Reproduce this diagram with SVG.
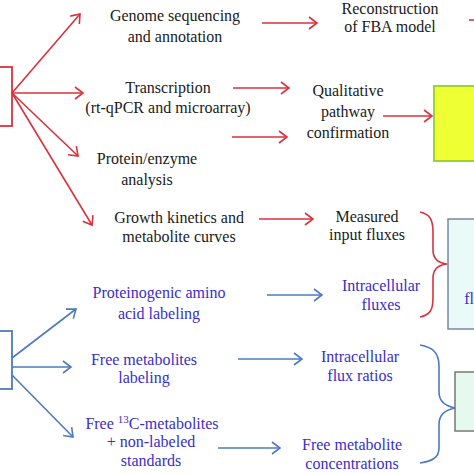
<svg xmlns="http://www.w3.org/2000/svg" width="474" height="474" viewBox="0 0 474 474">
<defs>
<style>
.t{font-family:"Liberation Serif","Times New Roman",serif;font-size:16px;text-anchor:middle;fill:#1a1a1a}
.b{fill:#3a2ec8}
.r{stroke:#d8323e;stroke-width:1.6;fill:none}
.u{stroke:#4d7ac0;stroke-width:1.6;fill:none}
.ra{marker-end:url(#mr)}
.ua{marker-end:url(#mb)}
</style>
<marker id="mr" markerUnits="userSpaceOnUse" markerWidth="12" markerHeight="14" refX="8" refY="6" orient="auto" overflow="visible">
<path d="M0,0 L8,6 L0,12" fill="none" stroke="#d8323e" stroke-width="1.6"/>
</marker>
<marker id="mb" markerUnits="userSpaceOnUse" markerWidth="12" markerHeight="14" refX="8" refY="6" orient="auto" overflow="visible">
<path d="M0,0 L8,6 L0,12" fill="none" stroke="#4d7ac0" stroke-width="1.6"/>
</marker>
</defs>
<rect width="474" height="474" fill="#ffffff"/>

<g id="red-source"><rect x="-10" y="67" width="22" height="59" fill="#ffffff" stroke="#d8323e" stroke-width="1.8"/></g>
<g id="blue-source"><rect x="-10" y="331" width="22" height="58" fill="#ffffff" stroke="#4d7ac0" stroke-width="1.8"/></g>
<g id="fba-box"><rect x="434" y="86" width="50" height="75" fill="#eeff33" stroke="#94cf2a" stroke-width="1.8"/></g>
<g id="flux-box1"><rect x="448" y="219" width="40" height="110" fill="#e9faf8" stroke="#7a889e" stroke-width="1.5"/>
<text class="t b" x="474" y="304" style="text-anchor:end">fl</text></g>
<g id="flux-box2"><rect x="455" y="372" width="40" height="59" fill="#e6f9ee" stroke="#777777" stroke-width="1.5"/></g>

<g id="connectors">
<line class="r ra" x1="12" y1="93" x2="80" y2="14"/>
<line class="r ra" x1="12" y1="93" x2="83" y2="93"/>
<line class="r ra" x1="12" y1="93" x2="78" y2="156"/>
<line class="r ra" x1="12" y1="93" x2="92" y2="225"/>
<line class="r ra" x1="262" y1="23" x2="317" y2="23"/>
<line class="r ra" x1="233" y1="88" x2="289" y2="88"/>
<line class="r ra" x1="232" y1="137" x2="287" y2="137"/>
<line class="r ra" x1="383" y1="116" x2="432" y2="116"/>
<line class="r ra" x1="259" y1="219" x2="313" y2="219"/>
<line class="r" x1="469" y1="20" x2="480" y2="20"/>
<line class="u ua" x1="12" y1="358" x2="76" y2="309"/>
<line class="u ua" x1="12" y1="367" x2="71" y2="367"/>
<line class="u ua" x1="12" y1="375" x2="73" y2="437"/>
<line class="u ua" x1="267" y1="295" x2="322" y2="295"/>
<line class="u ua" x1="238" y1="359" x2="302" y2="359"/>
<line class="u ua" x1="218" y1="448" x2="280" y2="448"/>
<path class="r" d="M420,212 C430,214 433,220 433,232 L433,250 C433,258 438,263 447,264 C438,265 433,270 433,278 L433,298 C433,310 430,315 420,317"/>
<path class="u" d="M420,345 C432,347 439,352 439,366 L439,392 C439,401 445,406 455,408 C445,410 439,415 439,424 L439,448 C439,458 432,461 420,463"/>
</g>

<g id="genome"><text class="t" x="175" y="21">Genome sequencing</text><text class="t" x="175" y="42">and annotation</text></g>
<g id="fba"><text class="t" x="390" y="13.5">Reconstruction</text><text class="t" x="390" y="32">of FBA model</text></g>
<g id="transcription"><text class="t" x="168" y="93">Transcription</text><text class="t" x="168" y="113">(rt-qPCR and microarray)</text></g>
<g id="qualitative"><text class="t" x="348" y="96">Qualitative</text><text class="t" x="348" y="117">pathway</text><text class="t" x="348" y="138">confirmation</text></g>
<g id="protein"><text class="t" x="147" y="164">Protein/enzyme</text><text class="t" x="147" y="185">analysis</text></g>
<g id="growth"><text class="t" x="179" y="223">Growth kinetics and</text><text class="t" x="179" y="242">metabolite curves</text></g>
<g id="measured"><text class="t" x="367" y="221.5">Measured</text><text class="t" x="367" y="240">input fluxes</text></g>
<g id="proteinogenic"><text class="t b" x="159" y="298">Proteinogenic amino</text><text class="t b" x="159" y="319">acid labeling</text></g>
<g id="intraflux"><text class="t b" x="381" y="291">Intracellular</text><text class="t b" x="381" y="309.5">fluxes</text></g>
<g id="freelab"><text class="t b" x="144" y="364.5">Free metabolites</text><text class="t b" x="144" y="383">labeling</text></g>
<g id="ratios"><text class="t b" x="360" y="362">Intracellular</text><text class="t b" x="360" y="380.5">flux ratios</text></g>
<g id="free13c"><text class="t b" x="152" y="428.5">Free <tspan font-size="11" dy="-6">13</tspan><tspan dy="6">C-metabolites</tspan></text><text class="t b" x="151" y="447">+ non-labeled</text><text class="t b" x="151" y="465.5">standards</text></g>
<g id="conc"><text class="t b" x="352" y="450">Free metabolite</text><text class="t b" x="352" y="468.5">concentrations</text></g>
</svg>
